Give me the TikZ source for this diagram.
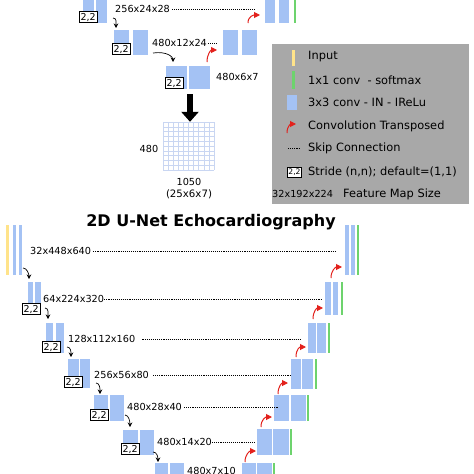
\documentclass[tikz,border=0pt]{standalone}
\usepackage{fontspec}
\setmainfont{DejaVu Sans}
\usetikzlibrary{arrows.meta,fit,positioning}

\definecolor{fmblue}{HTML}{A4C2F4}
\definecolor{outgreen}{HTML}{6DD36D}
\definecolor{inyellow}{HTML}{FFE38A}
\definecolor{upred}{HTML}{E3211C}
\definecolor{leggray}{HTML}{A8A8A8}
\definecolor{gridblue}{HTML}{C9D6F2}

\tikzset{
  blk/.style={fill=fmblue, inner sep=0pt, outer sep=0pt},
  outc/.style={fill=outgreen, inner sep=0pt, outer sep=0pt},
  inpc/.style={fill=inyellow, inner sep=0pt, outer sep=0pt},
  stride/.style={draw, fill=white, line width=0.7pt, inner xsep=1.2pt, inner ysep=0pt,
    minimum height=11pt, font=\fontsize{9.5}{10}\selectfont},
  dims/.style={anchor=west, inner sep=0pt, font=\fontsize{9.7}{11}\selectfont},
  skip/.style={line width=1pt, dash pattern=on 1.1pt off 1pt},
  down/.style={line width=0.7pt, -{Stealth[length=4.5pt,width=4.5pt]}},
  up/.style={upred, line width=1pt, -{Triangle[length=6pt,width=6pt]}},
  legtxt/.style={anchor=west, inner sep=0pt, font=\fontsize{11.4}{13}\selectfont},
}

% feature map block from corner to corner (px, y down)
\newcommand{\fmap}[6][blk]{\node[#1, fit={(#3,#4) (#5,#6)}] (#2) {};}

\begin{document}
\begin{tikzpicture}[x=1pt,y=-1pt]
\clip (0,0) rectangle (474,474);
\fill[white] (0,0) rectangle (474,474);

% ---- top net (cut off) ----
\fmap{t1a}{83}{-6}{94}{23}
\fmap{t1b}{96}{-6}{107}{23}
\node[stride, anchor=south west] (ts1) at ([xshift=-4pt]t1a.south west) {2,2};
\node[dims] (tfm1) at (115,9) {256x24x28};
\fmap{t2a}{114}{30}{129}{55}
\fmap{t2b}{133}{30}{148}{55}
\node[stride, anchor=south west] (ts2) at ([xshift=-2pt]t2a.south west) {2,2};
\node[dims] (tfm2) at (152,43) {480x12x24};
\fmap{t3a}{166}{66}{187}{89}
\fmap{t3b}{189}{66}{210}{89}
\node[stride, anchor=south west] (ts3) at ([xshift=-1pt]t3a.south west) {2,2};
\node[dims] (tfm3) at (216,77) {480x6x7};
\fmap{tu2a}{223}{30}{238}{55}
\fmap{tu2b}{242}{30}{257}{55}
\fmap{tu1a}{265}{-6}{275}{23}
\fmap{tu1b}{279}{-6}{289}{23}
\fmap[outc]{to1}{294}{-6}{296}{23}

\draw[skip, shorten <=2pt, shorten >=9pt] (tfm1.east) -- (tfm1.east -| tu1a.west);
\draw[skip, shorten <=1pt, shorten >=6pt] (tfm2.east) -- (tfm2.east -| tu2a.west);

\coordinate (tdn1s) at (113,18);  \coordinate (tdn1e) at (116,28);
\coordinate (tdn2s) at (153,53);  \coordinate (tdn2e) at (173,62);
\draw[down] (tdn1s) .. controls +(4,0) and +(0,-5) .. (tdn1e);
\draw[down] (tdn2s) .. controls +(14,-2) and +(0,-5) .. (tdn2e);
\coordinate (tup2s) at (207,62);  \coordinate (tup2e) at (217,50);
\coordinate (tup1s) at (248,23);  \coordinate (tup1e) at (260,15);
\draw[up] (tup2s) .. controls +(0,-8) and +(-6,0) .. (tup2e);
\draw[up] (tup1s) .. controls +(0,-7) and +(-6,0) .. (tup1e);

% flatten into dense layer
\coordinate (flat1) at (190,94);
\node[inner sep=0pt, fit={(163,122) (214,170)}] (dense) {};
\draw[line width=5.5pt, -{Triangle[length=10pt,width=17pt]}] (flat1) -- (flat1 |- dense.north);
\foreach \i in {0,...,10} {
  \draw[gridblue, line width=0.5pt] (163+\i*5.1,122) -- (163+\i*5.1,170);
  \draw[gridblue, line width=0.5pt] (163,122+\i*4.8) -- (214,122+\i*4.8);
}
\node[inner sep=0pt, font=\fontsize{9.7}{11}\selectfont] (nrows) at (149,149) {480};
\node[inner sep=0pt, font=\fontsize{9.7}{11}\selectfont] (ncols) at (189,182) {1050};
\node[inner sep=0pt, font=\fontsize{10.2}{11}\selectfont] (nsplit) at (189,194) {(25x6x7)};

% ---- legend ----
\fill[leggray] (272,44) rectangle (469,204);
\fmap[inpc]{lin}{292}{50}{294.5}{66}
\node[legtxt] (lintxt) at (308,57) {Input};
\fmap[outc]{lout}{292}{71}{294.5}{89}
\node[legtxt] (louttxt) at (308,80) {1x1 conv\ \ - softmax};
\fmap{lblk}{287}{95}{297}{110}
\node[legtxt] (lblktxt) at (308,102) {3x3 conv - IN - IReLu};
\coordinate (lups) at (287,133); \coordinate (lupe) at (296,124);
\draw[up] (lups) .. controls +(0,-7) and +(-5,0) .. (lupe);
\node[legtxt] (luptxt) at (308,126) {Convolution Transposed};
\coordinate (lsks) at (288,148); \coordinate (lske) at (300,148);
\draw[skip] (lsks) -- (lske);
\node[legtxt] (lsktxt) at (308,148) {Skip Connection};
\node[stride, font=\fontsize{7.6}{8}\selectfont, minimum height=10pt, inner xsep=0.8pt] (lst) at (294.5,172.5) {2,2};
\node[legtxt] (lsttxt) at (308,172) {Stride (n,n); default=(1,1)};
\node[dims] (lfm) at (272,194) {32x192x224};
\node[legtxt] (lfmtxt) at (343,194) {Feature Map Size};

% ---- 2D U-Net ----
\node[inner sep=0pt, font=\fontsize{16}{18}\bfseries] (title) at (211,222) {2D U-Net Echocardiography};

% encoder
\fmap[inpc]{in1}{6}{225}{8.5}{275}
\fmap{e1a}{13}{225}{16}{275}
\fmap{e1b}{19}{225}{22}{275}
\node[dims] (fm1) at (30,251) {32x448x640};
\fmap{e2a}{28}{282}{33}{315}
\fmap{e2b}{35}{282}{41}{315}
\node[stride, anchor=south west] (s2) at ([xshift=-6pt]e2a.south west) {2,2};
\node[dims] (fm2) at (43,299) {64x224x320};
\fmap{e3a}{46}{323}{53}{353}
\fmap{e3b}{56}{323}{64}{353}
\node[stride, anchor=south west] (s3) at ([xshift=-4pt]e3a.south west) {2,2};
\node[dims] (fm3) at (68,339) {128x112x160};
\fmap{e4a}{68}{359}{79}{388}
\fmap{e4b}{80}{359}{90}{388}
\node[stride, anchor=south west] (s4) at ([xshift=-4pt]e4a.south west) {2,2};
\node[dims] (fm4) at (94,375) {256x56x80};
\fmap{e5a}{94}{395}{108}{421}
\fmap{e5b}{110}{395}{124}{421}
\node[stride, anchor=south west] (s5) at ([xshift=-4pt]e5a.south west) {2,2};
\node[dims] (fm5) at (127,407) {480x28x40};
\fmap{e6a}{123}{430}{138}{455}
\fmap{e6b}{140}{430}{154}{455}
\node[stride, anchor=south west] (s6) at ([xshift=-2pt]e6a.south west) {2,2};
\node[dims] (fm6) at (157,442) {480x14x20};
\fmap{e7a}{155}{463}{168}{490}
\fmap{e7b}{170}{463}{184}{490}
\node[dims] (fm7) at (187,471) {480x7x10};

% decoder
\fmap{d1a}{345}{225}{349}{275}
\fmap{d1b}{351}{225}{355}{275}
\fmap[outc]{o1}{357}{225}{359}{275}
\fmap{d2a}{325}{282}{331}{315}
\fmap{d2b}{333}{282}{338}{315}
\fmap[outc]{o2}{341}{282}{343}{315}
\fmap{d3a}{308}{323}{316}{353}
\fmap{d3b}{317}{323}{326}{353}
\fmap[outc]{o3}{328}{323}{330}{353}
\fmap{d4a}{291}{359}{301}{389}
\fmap{d4b}{302}{359}{313}{389}
\fmap[outc]{o4}{315}{359}{317}{389}
\fmap{d5a}{274}{395}{289}{421}
\fmap{d5b}{291}{395}{306}{421}
\fmap[outc]{o5}{307}{395}{309}{421}
\fmap{d6a}{257}{429}{272}{455}
\fmap{d6b}{273}{429}{289}{455}
\fmap[outc]{o6}{290}{429}{292}{455}
\fmap{d7a}{242}{463}{256}{490}
\fmap{d7b}{257}{463}{272}{490}
\fmap[outc]{o7}{273}{463}{275}{490}

% skip connections
\draw[skip, shorten <=2pt, shorten >=10pt] (fm1.east) -- (fm1.east -| d1a.west);
\draw[skip, shorten >=3pt] (fm2.east) -- (fm2.east -| d2a.west);
\draw[skip, shorten <=7pt, shorten >=6pt] (fm3.east) -- (fm3.east -| d3a.west);
\draw[skip, shorten <=4pt, shorten >=1pt] (fm4.east) -- (fm4.east -| d4a.west);
\draw[skip, shorten <=2pt, shorten >=-4pt] (fm5.east) -- (fm5.east -| d5a.west);
\draw[skip, shorten >=2pt] (fm6.east) -- (fm6.east -| d6a.west);

% downsampling
\foreach \n/\sx/\sy/\ex/\ey in {1/23/268/29/279, 2/45/308/48/319, 3/67/347/71/357,
    4/96/383/100/394, 5/125/415/130/427, 6/153/452/158/462} {
  \coordinate (dn\n s) at (\sx,\sy);
  \coordinate (dn\n e) at (\ex,\ey);
  \draw[down] (dn\n s) .. controls +(4,0) and +(0,-5) .. (dn\n e);
}

% transposed convolutions
\foreach \n/\sx/\sy/\ex/\ey in {1/331/278/342/267, 2/313/319/323/308, 3/296/357/306/347,
    4/278/394/288/383, 5/261/427/272/417, 6/245/462/256/451} {
  \coordinate (up\n s) at (\sx,\sy);
  \coordinate (up\n e) at (\ex,\ey);
  \draw[up] (up\n s) .. controls +(0,-8) and +(-6,0) .. (up\n e);
}
\end{tikzpicture}
\end{document}
